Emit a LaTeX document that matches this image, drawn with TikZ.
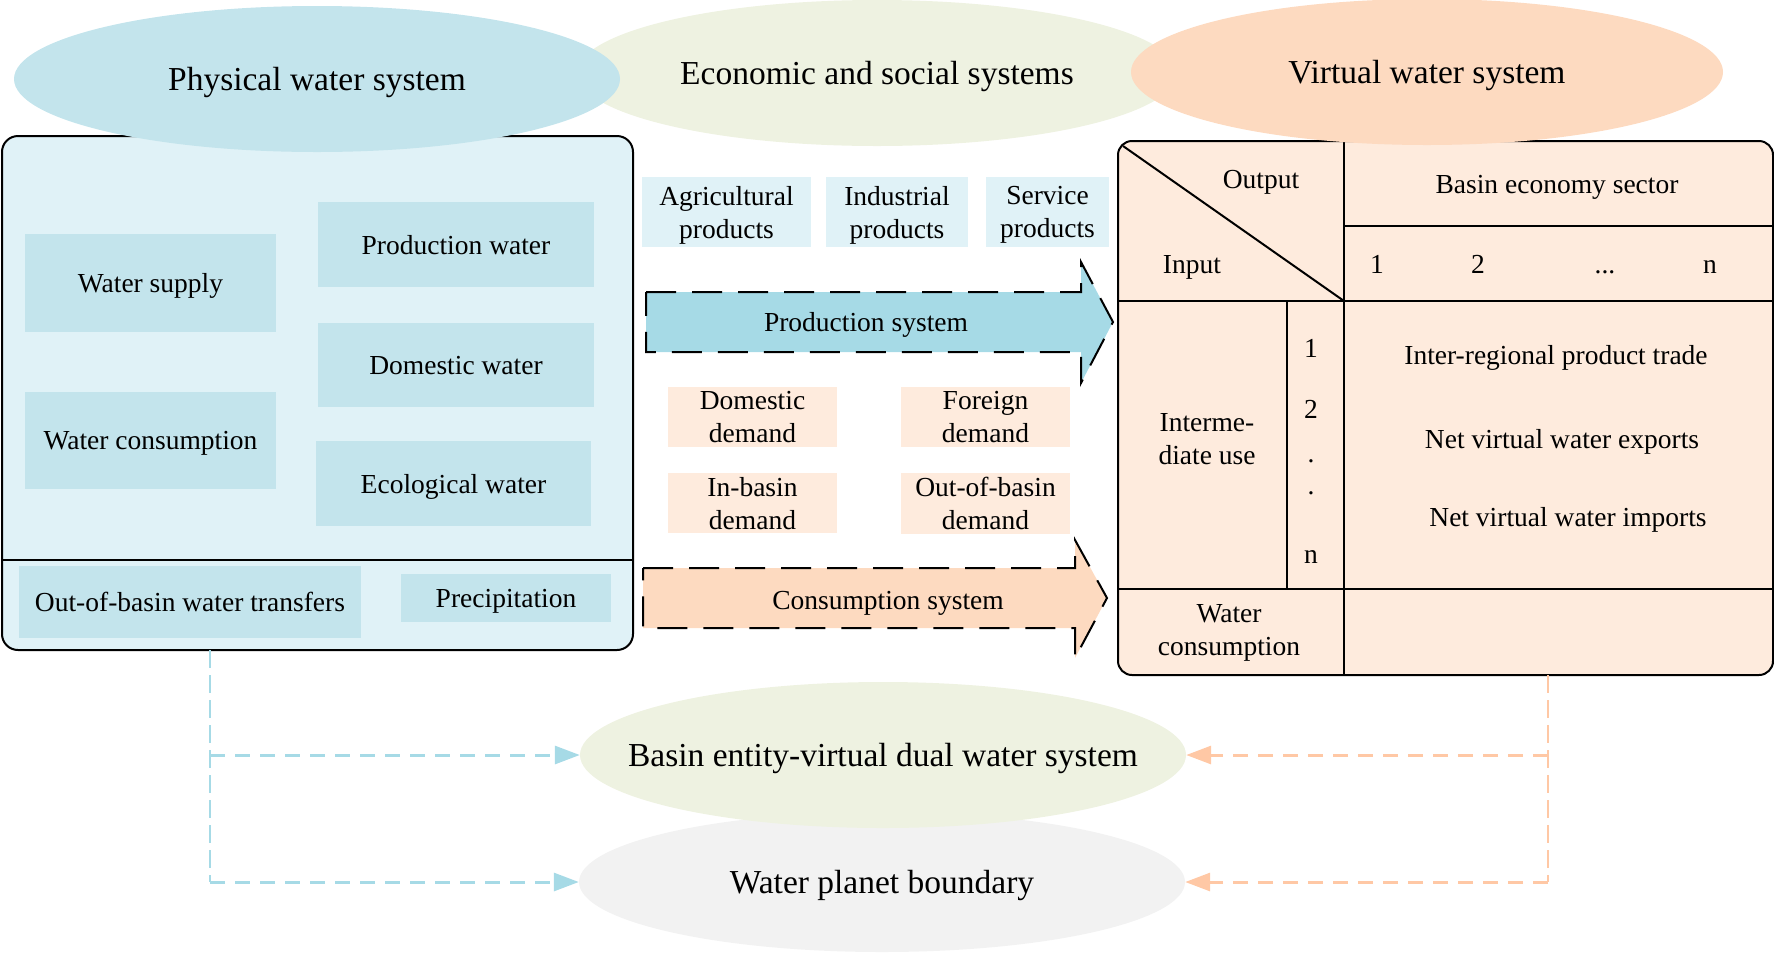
\documentclass[tikz,border=0pt]{standalone}
\usepackage{fontspec}
\setmainfont{Liberation Serif}
\usetikzlibrary{shapes.geometric,arrows.meta}
\definecolor{panelblue}{HTML}{E0F2F7}
\definecolor{boxblue}{HTML}{C3E4EC}
\definecolor{econgreen}{HTML}{EEF2E1}
\definecolor{virtorange}{HTML}{FDDAC0}
\definecolor{tablepeach}{HTML}{FEEBDD}
\definecolor{prodblue}{HTML}{A6DAE6}
\definecolor{planetgray}{HTML}{F2F2F2}
\definecolor{connblue}{HTML}{A6DAE6}
\definecolor{connorange}{HTML}{FFC8A5}
\newcommand\ftitle{\fontsize{33.5}{40}\selectfont}
\newcommand\ftext{\fontsize{27.5}{33}\selectfont}
\begin{document}
\begin{tikzpicture}[x=1pt,y=-1pt,
  bigell/.style={ellipse,inner sep=0pt},
  elltext/.style={label={[font=\ftitle,inner sep=0pt,text depth=0pt]center:#1}},
  blbox/.style={rectangle,fill=boxblue,inner sep=0pt,font=\ftext,align=center,text depth=0pt},
  pbbox/.style={rectangle,fill=panelblue,inner sep=0pt,font=\ftext,align=center,text depth=0pt},
  pcbox/.style={rectangle,fill=tablepeach,inner sep=0pt,font=\ftext,align=center,text depth=0pt},
  ttext/.style={inner sep=0pt,font=\ftext,align=center},
  ctext/.style={ttext,text depth=0pt},
  frame/.style={draw=black,line width=2pt},
  bigarrow/.style={draw=black,line width=2pt,dash pattern=on 30pt off 16pt,line join=miter},
  vconnb/.style={draw=connblue,line width=2pt,dash pattern=on 18pt off 7pt},
  hconnb/.style={draw=connblue,line width=3pt,dash pattern=on 15pt off 10pt,-{Triangle[length=25pt,width=18pt,fill=connblue]}},
  vconno/.style={draw=connorange,line width=2pt,dash pattern=on 18pt off 7pt},
  hconno/.style={draw=connorange,line width=3pt,dash pattern=on 15pt off 10pt,-{Triangle[length=25pt,width=18pt,fill=connorange]}}
]
\useasboundingbox (0,0) rectangle (1774,954);

% top ellipses (economic behind)
\node[bigell,fill=econgreen,minimum width=600pt,minimum height=146pt,elltext={Economic and social systems}] (econ) at (877,73) {};

% left panel
\node[rectangle,rounded corners=16pt,frame,fill=panelblue,minimum width=631pt,minimum height=514pt,inner sep=0pt] (phys) at (317.5,393) {};
\draw[frame] (phys.west |- 0,560) -- (phys.east |- 0,560);
\node[bigell,fill=boxblue,minimum width=606pt,minimum height=146pt,elltext={Physical water system}] (physell) at (317,79) {};

% right table
\node[rectangle,rounded corners=14pt,frame,fill=tablepeach,minimum width=655pt,minimum height=534pt,inner sep=0pt] (tab) at (1445.5,408) {};
\draw[frame] (1344,141) -- (1344,675);
\draw[frame] (1344,226) -- (1773,226);
\draw[frame] (1118,301) -- (1773,301);
\draw[frame] (1287,301) -- (1287,589);
\draw[frame] (1118,589) -- (1773,589);
\draw[line width=2pt] (1123,146) -- (1344,301);
\node[bigell,fill=virtorange,minimum width=592pt,minimum height=146pt,elltext={Virtual water system}] (virt) at (1427,72) {};

% left panel content
\node[blbox,minimum width=251pt,minimum height=98pt] (ws) at (150.5,283) {Water supply};
\node[blbox,minimum width=276pt,minimum height=85pt] (pw) at (456,244.5) {Production water};
\node[blbox,minimum width=276pt,minimum height=84pt] (dw) at (456,365) {Domestic water};
\node[blbox,minimum width=251pt,minimum height=97pt] (wc) at (150.5,440.5) {Water consumption};
\node[blbox,minimum width=275pt,minimum height=85pt] (ew) at (453.5,483.5) {Ecological water};
\node[blbox,minimum width=342pt,minimum height=72pt] (obt) at (190,602) {Out-of-basin water transfers};
\node[blbox,minimum width=210pt,minimum height=48pt] (pre) at (506,598) {Precipitation};

% middle content
\node[pbbox,minimum width=169pt,minimum height=70pt] (agr) at (726.5,212) {Agricultural\\products};
\node[pbbox,minimum width=142pt,minimum height=70pt] (ind) at (897,212) {Industrial\\products};
\node[pbbox,minimum width=123pt,minimum height=70pt] (ser) at (1047.5,212) {Service\\products};

\path[bigarrow,fill=prodblue] (646,292) -- (1081,292) -- (1081,262) -- (1113,322) -- (1081,383) -- (1081,352) -- (646,352) -- cycle;
\node[ctext] (prod) at (866,322) {Production system};

\node[pcbox,minimum width=169pt,minimum height=60pt] (dd) at (752.5,417) {Domestic\\demand};
\node[pcbox,minimum width=169pt,minimum height=60pt] (fd) at (985.5,417) {Foreign\\demand};
\node[pcbox,minimum width=169pt,minimum height=60pt] (ibd) at (752.5,503) {In-basin\\demand};
\node[pcbox,minimum width=169pt,minimum height=61pt] (obd) at (985.5,503.5) {Out-of-basin\\demand};

\path[bigarrow,fill=virtorange] (643,568) -- (1075,568) -- (1075,540) -- (1107,598) -- (1075,658) -- (1075,628) -- (643,628) -- cycle;
\node[ctext] (cons) at (888,600) {Consumption system};

% table texts
\node[ttext,anchor=base] (out) at (1261,188) {Output};
\node[ttext,anchor=base] (inp) at (1192,273) {Input};
\node[ttext,anchor=base] (bes) at (1557,193) {Basin economy sector};
\node[ttext,anchor=base] (c1) at (1377,273) {1};
\node[ttext,anchor=base] (c2) at (1478,273) {2};
\node[ttext,anchor=base] (cd) at (1605,273) {...};
\node[ttext,anchor=base] (cn) at (1710,273) {n};
\node[ctext] (imu) at (1207,439) {Interme-\\diate use};
\node[ttext,anchor=base] (r1) at (1311,357) {1};
\node[ttext,anchor=base] (r2) at (1311,418) {2};
\node[ttext,anchor=base] (rd1) at (1311,462) {.};
\node[ttext,anchor=base] (rd2) at (1311,494) {.};
\node[ttext,anchor=base] (rn) at (1311,563) {n};
\node[ctext] (irpt) at (1556,355) {Inter-regional product trade};
\node[ctext] (nvwe) at (1562,439) {Net virtual water exports};
\node[ctext] (nvwi) at (1568,517) {Net virtual water imports};
\node[ctext] (twc) at (1229,630) {Water\\consumption};

% bottom ellipses
\node[bigell,fill=planetgray,minimum width=606pt,minimum height=140pt,elltext={Water planet boundary}] (planet) at (882,882) {};
\node[bigell,fill=econgreen,minimum width=606pt,minimum height=146pt,elltext={Basin entity-virtual dual water system}] (dual) at (883,755) {};

% connectors
\coordinate (bl) at (210,650);
\coordinate (br) at (1548,675);
\draw[vconnb] (bl) -- (bl |- planet.west);
\draw[hconnb] (bl |- dual.west) -- (dual.west);
\draw[hconnb] (bl |- planet.west) -- (planet.west);
\draw[vconno] (br) -- (br |- planet.east);
\draw[hconno] (br |- dual.east) -- (dual.east);
\draw[hconno] (br |- planet.east) -- (planet.east);
\end{tikzpicture}
\end{document}
